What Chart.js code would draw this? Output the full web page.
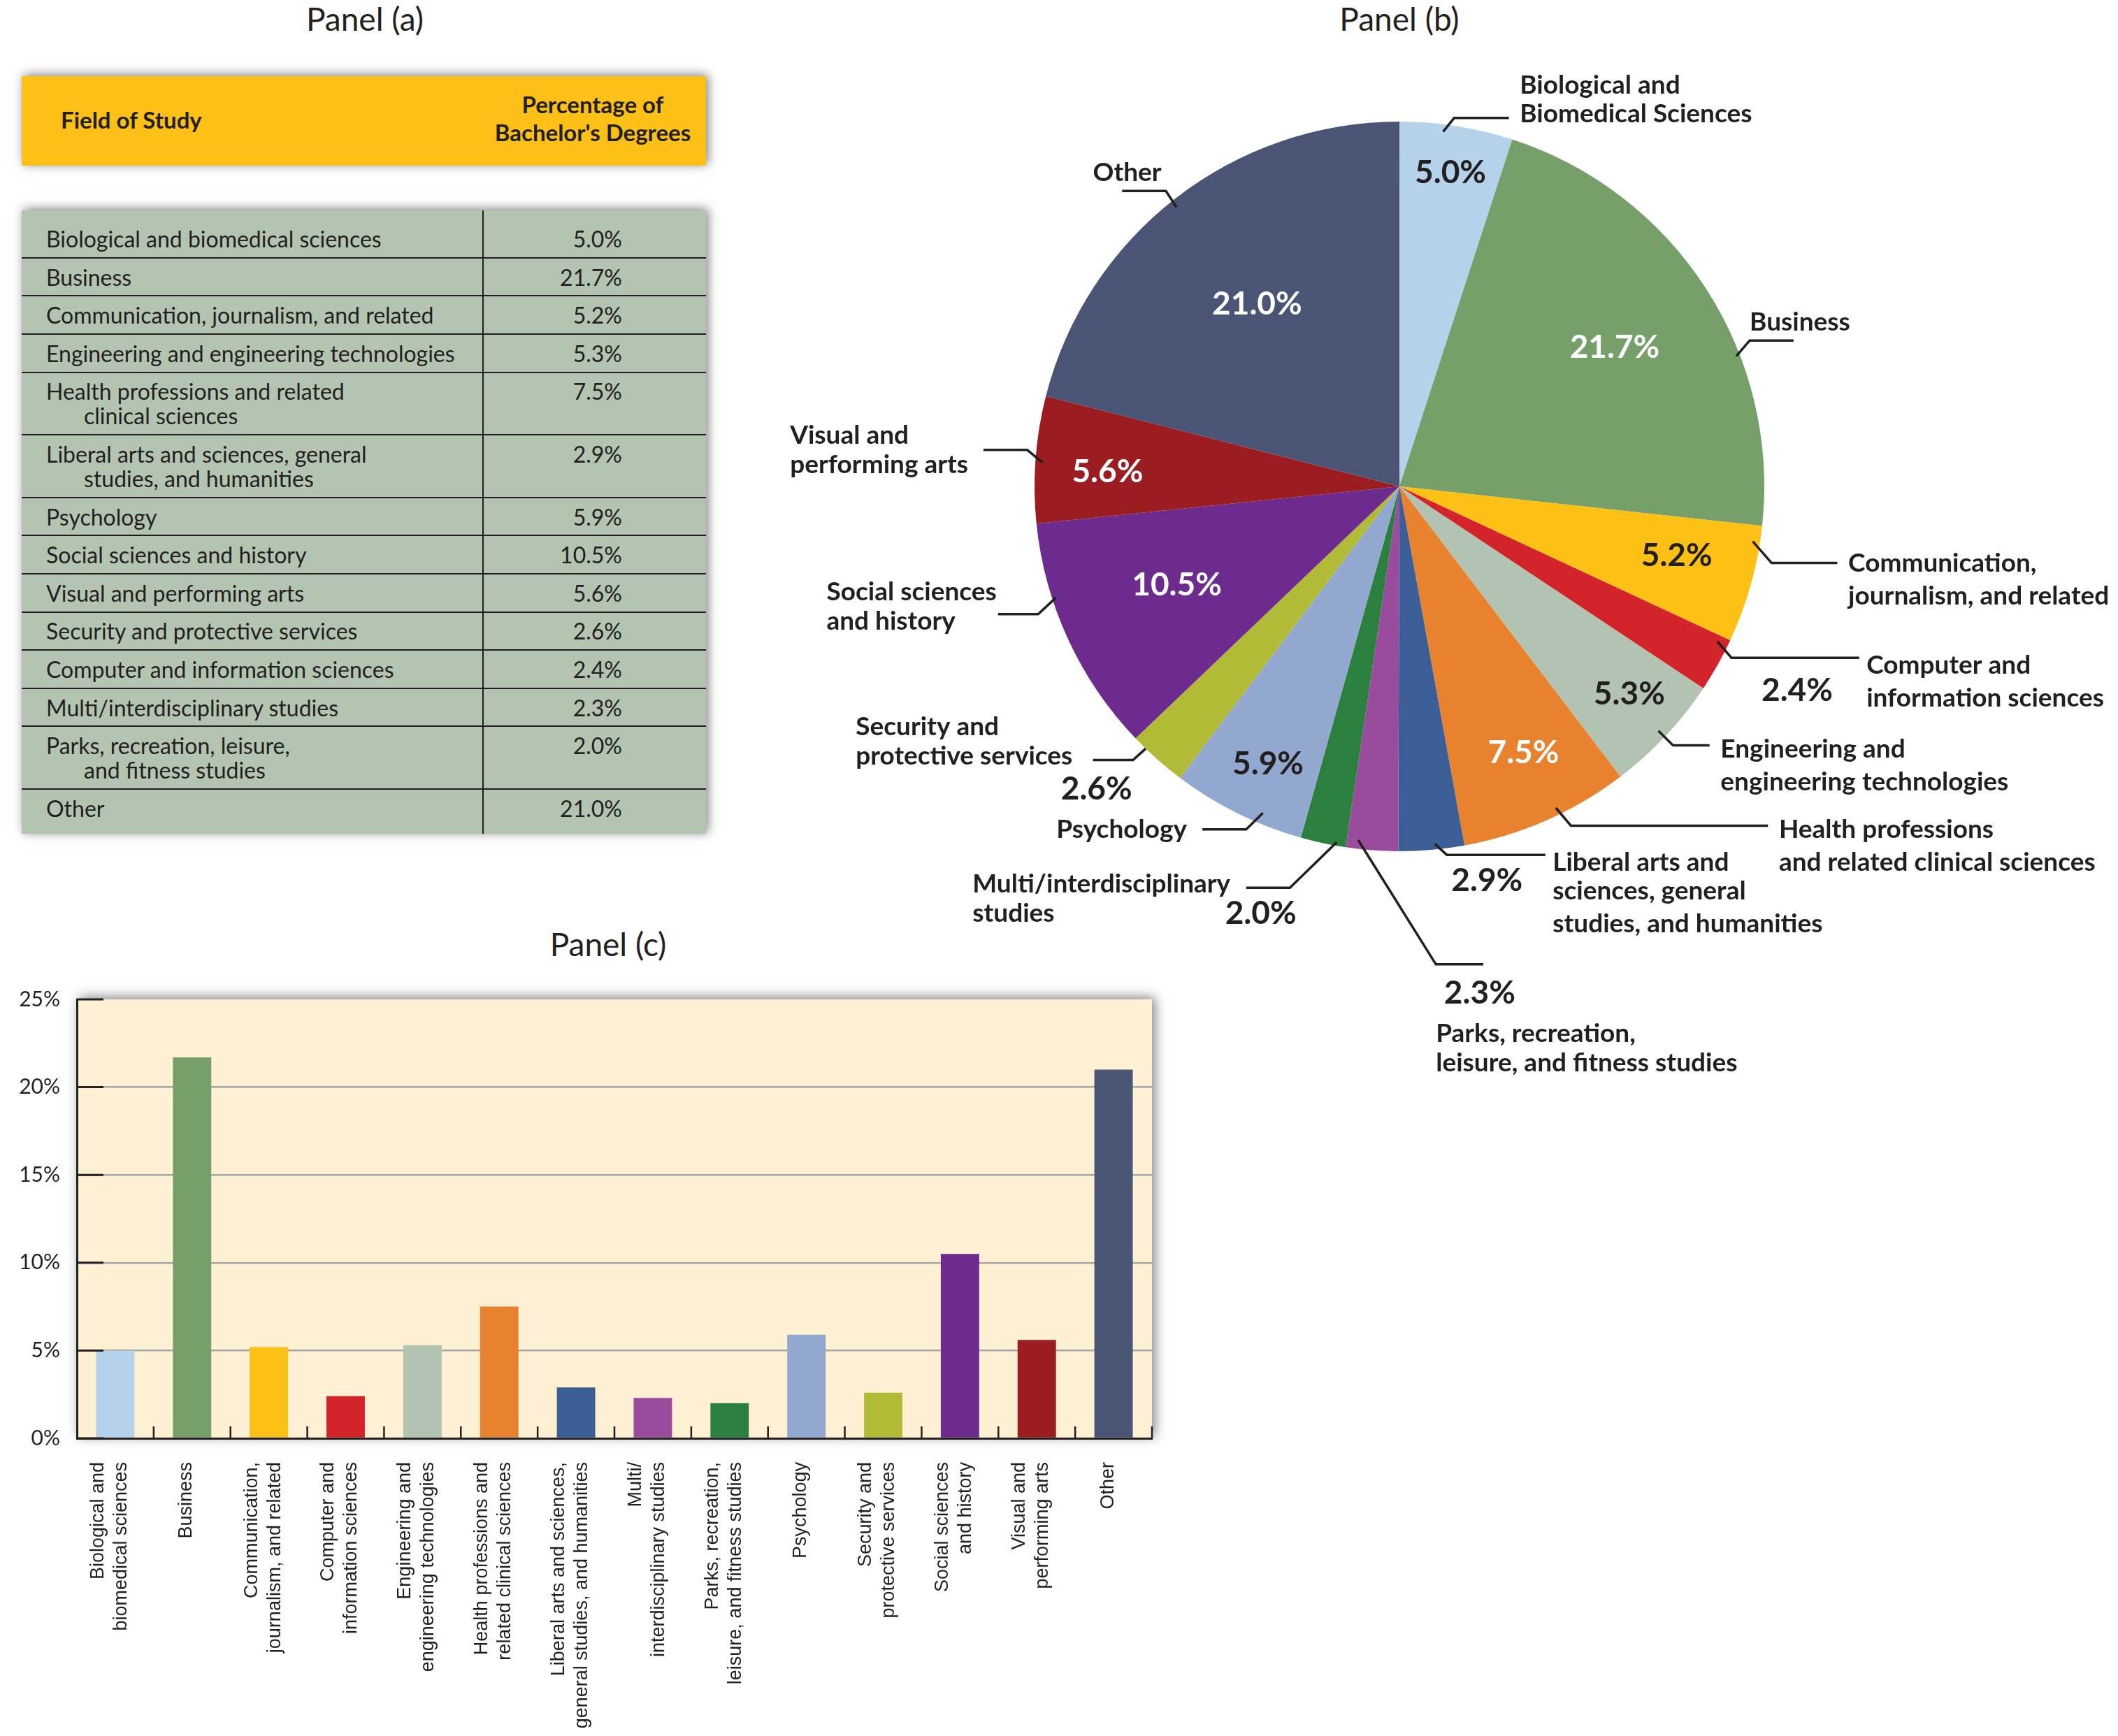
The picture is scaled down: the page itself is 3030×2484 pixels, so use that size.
<!DOCTYPE html>
<html>
<head>
<meta charset="utf-8">
<script src="https://cdn.jsdelivr.net/npm/chart.js@4.4.0/dist/chart.umd.min.js"></script>
<style>
body{margin:0;width:3030px;height:2484px;background:#fff;position:relative;overflow:hidden;font-family:Lato,"Open Sans",sans-serif;color:#231f20}
.title{position:absolute;width:400px;font-size:46px;line-height:54px;text-align:center}
#hdr{position:absolute;left:31px;top:109px;width:979px;height:128px;background:#fdc016;box-shadow:3px -2px 14px rgba(0,0,0,.5);font-weight:bold;font-size:33px}
#hdr .f{position:absolute;left:56px;top:42px}
#hdr .p{position:absolute;left:657px;width:320px;top:20px;line-height:40px;text-align:center}
#box{position:absolute;left:31px;top:301px;width:979px;background:#b3c4b1;box-shadow:3px -2px 14px rgba(0,0,0,.5)}
#tbl{width:979px;border-collapse:collapse;table-layout:fixed;font-size:32px}
#tbl td{padding:8.8px 0 8.8px 35px;line-height:35px;vertical-align:top;border-top:2.5px solid #231f20}
#tbl tr:first-child td{border-top:none;padding-top:23px}
#tbl tr:last-child td{padding-bottom:19px}
#tbl td.v{text-align:right;padding-right:120px;border-left:2.5px solid #231f20}
#tbl .cont{padding-left:54px}
#pie{position:absolute;left:1100px;top:0}
#bar{position:absolute;left:0;top:1380px}
</style>
</head>
<body>
<div class="title" style="left:322px;top:0">Panel (a)</div>
<div class="title" style="left:1802px;top:0">Panel (b)</div>
<div class="title" style="left:670px;top:1324px">Panel (c)</div>

<div id="hdr"><div class="f">Field of Study</div><div class="p">Percentage of<br>Bachelor's Degrees</div></div>
<div id="box"><table id="tbl"><colgroup><col style="width:660px"><col style="width:319px"></colgroup><tbody></tbody></table></div>

<canvas id="pie" width="1930" height="1580"></canvas>
<canvas id="bar" width="1700" height="1104"></canvas>

<script>
// table rows, in the order of panel (a)
const tableFields = [
  ['Biological and biomedical sciences'],
  ['Business'],
  ['Communication, journalism, and related'],
  ['Engineering and engineering technologies'],
  ['Health professions and related', 'clinical sciences'],
  ['Liberal arts and sciences, general', 'studies, and humanities'],
  ['Psychology'],
  ['Social sciences and history'],
  ['Visual and performing arts'],
  ['Security and protective services'],
  ['Computer and information sciences'],
  ['Multi/interdisciplinary studies'],
  ['Parks, recreation, leisure,', 'and fitness studies'],
  ['Other']
];
const tableShares = [5.0, 21.7, 5.2, 5.3, 7.5, 2.9, 5.9, 10.5, 5.6, 2.6, 2.4, 2.3, 2.0, 21.0];

// categories for pie and bars, in drawing order
const categories = [
  'Biological and biomedical sciences', 'Business', 'Communication, journalism, and related',
  'Computer and information sciences', 'Engineering and engineering technologies',
  'Health professions and related clinical sciences',
  'Liberal arts and sciences, general studies, and humanities',
  'Multi/interdisciplinary studies', 'Parks, recreation, leisure, and fitness studies',
  'Psychology', 'Security and protective services', 'Social sciences and history',
  'Visual and performing arts', 'Other'
];
const shares = [5.0, 21.7, 5.2, 2.4, 5.3, 7.5, 2.9, 2.3, 2.0, 5.9, 2.6, 10.5, 5.6, 21.0];
const sliceColors = ['#b4d2e9', '#769f69', '#fdc014', '#d3232b', '#b2c4b1', '#e9822f', '#3c5e96',
  '#9a4c9c', '#2c803f', '#93a8d0', '#b2bb37', '#6e2b8e', '#9b1c21', '#4a5575'];

const barTickLabels = [
  ['Biological and', 'biomedical sciences'], ['Business'], ['Communication,', 'journalism, and related'],
  ['Computer and', 'information sciences'], ['Engineering and', 'engineering technologies'],
  ['Health professions and', 'related clinical sciences'],
  ['Liberal arts and sciences,', 'general studies, and humanities'],
  ['Multi/', 'interdisciplinary studies'], ['Parks, recreation,', 'leisure, and fitness studies'],
  ['Psychology'], ['Security and', 'protective services'], ['Social sciences', 'and history'],
  ['Visual and', 'performing arts'], ['Other']
];
const yTicks = [0, 5, 10, 15, 20, 25];

// pie callout text, as printed next to each slice
const pieNames = [
  ['Biological and', 'Biomedical Sciences'], ['Business'], ['Communication,', 'journalism, and related'],
  ['Computer and', 'information sciences'], ['Engineering and', 'engineering technologies'],
  ['Health professions', 'and related clinical sciences'],
  ['Liberal arts and', 'sciences, general', 'studies, and humanities'],
  ['Parks, recreation,', 'leisure, and fitness studies'], ['Multi/interdisciplinary', 'studies'],
  ['Psychology'], ['Security and', 'protective services'], ['Social sciences', 'and history'],
  ['Visual and', 'performing arts'], ['Other']
];

const INK = '#231f20';

// ---- panel (a) table
const tbody = document.querySelector('#tbl tbody');
tableFields.forEach((lines, i) => {
  const tr = document.createElement('tr');
  const td = document.createElement('td');
  td.innerHTML = lines.map((l, k) => k ? '<div class="cont">' + l + '</div>' : '<div>' + l + '</div>').join('');
  const tv = document.createElement('td');
  tv.className = 'v';
  tv.textContent = tableShares[i].toFixed(1) + '%';
  tr.appendChild(td);
  tr.appendChild(tv);
  tbody.appendChild(tr);
});

// ---- panel (b) pie
// leader line: t = where along the slice, rf = radius factor, path / text / pct in radius units from the centre
const callouts = [
  {t: .39, rf: .98, path: [[.15, -1.01], [.30, -1.01]], tx: .33, ty: [-1.10, -1.02], pct: [.14, -.86], pc: INK},
  {t: .65, rf: .99, path: [[.96, -.40], [1.08, -.40]], tx: .96, ty: [-.45], pct: [.59, -.38], pc: '#fff'},
  {t: .14, rf: .98, path: [[1.02, .21], [1.20, .21]], tx: 1.23, ty: [.21, .30], pct: [.76, .19], pc: INK},
  {t: .12, rf: .97, path: [[.91, .47], [1.26, .47]], tx: 1.28, ty: [.49, .58], pct: [1.09, .56], pc: INK},
  {t: .51, rf: .976, path: [[.75, .71], [.85, .71]], tx: .88, ty: [.72, .81], pct: [.63, .57], pc: INK},
  {t: .42, rf: .98, path: [[.47, .93], [1.01, .93]], tx: 1.04, ty: [.94, 1.03], pct: [.34, .73], pc: '#fff'},
  {t: .44, rf: .985, path: [[.13, 1.01], [.40, 1.01]], tx: .42, ty: [1.03, 1.11, 1.20], pct: [.24, 1.08], pc: INK},
  {t: .78, rf: .976, path: [[.10, 1.31], [.23, 1.31]], tx: .10, ty: [1.50, 1.58], pct: [.22, 1.39], pc: INK},
  {t: .21, rf: .99, path: [[-.30, 1.10], [-.42, 1.10]], tx: -1.17, ty: [1.09, 1.17], pct: [-.38, 1.17], pc: INK},
  {t: .33, rf: .97, path: [[-.42, .94], [-.54, .94]], tx: -.94, ty: [.94], pct: [-.36, .76], pc: INK},
  {t: .76, rf: 1.0, path: [[-.73, .75], [-.84, .75]], tx: -1.49, ty: [.66, .74], pct: [-.83, .83], pc: INK},
  {t: .68, rf: .99, path: [[-.99, .35], [-1.10, .35]], tx: -1.57, ty: [.29, .37], pct: [-.61, .27], pc: '#fff'},
  {t: .48, rf: .98, path: [[-1.02, -.10], [-1.14, -.10]], tx: -1.67, ty: [-.14, -.06], pct: [-.80, -.04], pc: '#fff'},
  {t: .49, rf: .98, path: [[-.64, -.81], [-.76, -.81]], tx: -.84, ty: [-.86], pct: [-.39, -.50], pc: '#fff'}
];

const calloutPlugin = {
  id: 'callouts',
  afterDatasetsDraw(chart) {
    const ctx = chart.ctx;
    const arcs = chart.getDatasetMeta(0).data;
    ctx.save();
    arcs.forEach((arc, i) => {
      const c = callouts[i];
      const p = arc.getProps(['x', 'y', 'startAngle', 'endAngle', 'outerRadius'], true);
      const r = p.outerRadius;
      const a = p.startAngle + (p.endAngle - p.startAngle) * c.t;
      ctx.strokeStyle = INK;
      ctx.lineWidth = 3.5;
      ctx.beginPath();
      ctx.moveTo(p.x + Math.cos(a) * r * c.rf, p.y + Math.sin(a) * r * c.rf);
      c.path.forEach(q => ctx.lineTo(p.x + q[0] * r, p.y + q[1] * r));
      ctx.stroke();

      ctx.fillStyle = INK;
      ctx.font = 'bold 37px Lato';
      ctx.textAlign = 'left';
      ctx.textBaseline = 'middle';
      pieNames[i].forEach((line, k) => {
        ctx.fillText(line, p.x + c.tx * r, p.y + c.ty[k] * r);
      });

      ctx.fillStyle = c.pc;
      ctx.font = 'bold 46px Lato';
      ctx.textAlign = 'center';
      ctx.fillText(shares[i].toFixed(1) + '%', p.x + c.pct[0] * r, p.y + c.pct[1] * r);
    });
    ctx.restore();
  }
};

new Chart(document.getElementById('pie'), {
  type: 'pie',
  data: {
    labels: categories,
    datasets: [{data: shares, backgroundColor: sliceColors, borderWidth: 0}]
  },
  options: {
    responsive: false,
    animation: false,
    layout: {padding: {left: 380, right: 506, top: 174, bottom: 362}},
    plugins: {legend: {display: false}, tooltip: {enabled: false}}
  },
  plugins: [calloutPlugin]
});

// ---- panel (c) bars
const barPanelPlugin = {
  id: 'barPanel',
  beforeDraw(chart) {
    const {ctx, chartArea: a} = chart;
    ctx.save();
    ctx.shadowColor = 'rgba(0,0,0,0.5)';
    ctx.shadowBlur = 16;
    ctx.shadowOffsetX = 4;
    ctx.shadowOffsetY = -3;
    ctx.fillStyle = '#fdf0d3';
    ctx.fillRect(a.left, a.top, a.right - a.left, a.bottom - a.top);
    ctx.restore();
  },
  afterDraw(chart) {
    const {ctx, chartArea: a, scales} = chart;
    const xs = scales.x, ys = scales.y;
    ctx.save();
    ctx.strokeStyle = INK;
    // short ticks inside the plot on the value axis
    ctx.lineWidth = 3;
    yTicks.forEach(v => {
      const y = ys.getPixelForValue(v);
      ctx.beginPath();
      ctx.moveTo(a.left, y);
      ctx.lineTo(a.left + 38, y);
      ctx.stroke();
    });
    // category boundary ticks on the base line
    ctx.lineWidth = 2.5;
    const w = xs.getPixelForValue(1) - xs.getPixelForValue(0);
    for (let i = 0; i < categories.length; i++) {
      const x = xs.getPixelForValue(i) + w / 2;
      ctx.beginPath();
      ctx.moveTo(x, a.bottom);
      ctx.lineTo(x, a.bottom - 17);
      ctx.stroke();
    }
    // rotated category labels
    ctx.fillStyle = INK;
    ctx.font = '27px "Liberation Sans", Arial, sans-serif';
    ctx.textAlign = 'right';
    ctx.textBaseline = 'middle';
    const lh = 33;
    barTickLabels.forEach((lines, i) => {
      const cx = xs.getPixelForValue(i) - 8;
      const x0 = cx - (lines.length - 1) * lh / 2;
      lines.forEach((line, k) => {
        ctx.save();
        ctx.translate(x0 + k * lh, a.bottom + 34);
        ctx.rotate(-Math.PI / 2);
        ctx.fillText(line, 0, 0);
        ctx.restore();
      });
    });
    ctx.restore();
  }
};

new Chart(document.getElementById('bar'), {
  type: 'bar',
  data: {
    labels: categories,
    datasets: [{data: shares, backgroundColor: sliceColors, borderWidth: 0,
      categoryPercentage: 1, barPercentage: 0.5}]
  },
  options: {
    responsive: false,
    animation: false,
    layout: {padding: {top: 50, right: 52, left: 0, bottom: 0}},
    plugins: {legend: {display: false}, tooltip: {enabled: false}},
    scales: {
      x: {
        grid: {display: false, drawTicks: false},
        border: {display: true, color: INK, width: 3},
        ticks: {display: false},
        afterFit(s) { s.height = 426; }
      },
      y: {
        min: 0, max: 25,
        afterBuildTicks(s) { s.ticks = yTicks.map(v => ({value: v})); },
        grid: {
          drawTicks: false,
          color: c => (c.tick && (c.tick.value === 0 || c.tick.value === 25)) ? 'rgba(0,0,0,0)' : '#a4a8ab',
          lineWidth: 2.5
        },
        border: {display: true, color: INK, width: 3},
        ticks: {
          padding: 24,
          color: INK,
          font: {family: 'Lato', size: 30},
          callback: v => v + '%'
        },
        afterFit(s) { s.width = 110; }
      }
    }
  },
  plugins: [barPanelPlugin]
});
</script>
</body>
</html>
